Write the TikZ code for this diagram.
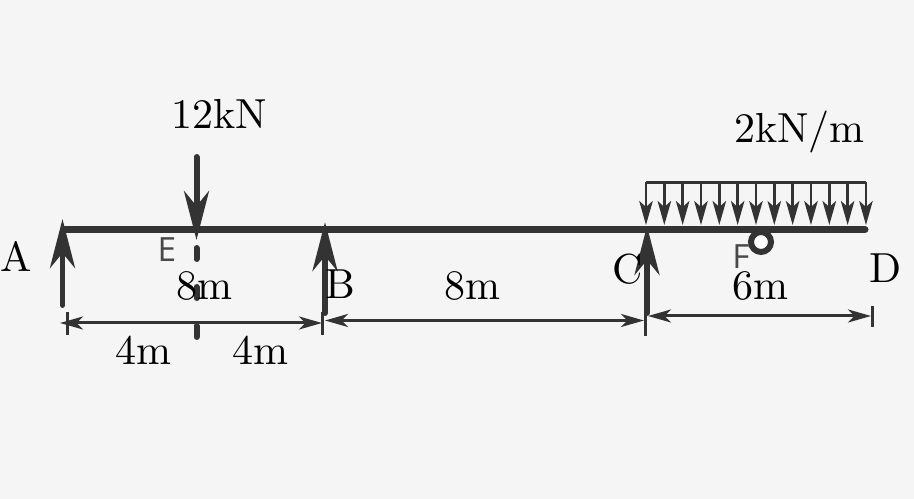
\documentclass[tikz,border=0pt]{standalone}
\usepackage{fontspec}
\newfontfamily\labelfont{Open Sans}
\usetikzlibrary{arrows, arrows.meta}
\usetikzlibrary{calc}
\definecolor{bgcol}{HTML}{F5F5F5}
\definecolor{inkcol}{HTML}{333333}
\definecolor{pointcol}{HTML}{484848}
\tikzset{
  beamline/.style={draw=inkcol, line width=0.14cm, line cap=round},
  bigarrow/.style={draw=inkcol, line width=0.12cm, line cap=round, -{Stealth[length=0.98cm, width=0.5cm, inset=0.3cm]}},
  dimline/.style={draw=inkcol, line width=0.06cm, {Stealth[length=0.46cm, width=0.26cm, inset=0.13cm]}-{Stealth[length=0.46cm, width=0.26cm, inset=0.13cm]}},
  dimtick/.style={draw=inkcol, line width=0.06cm},
  loadline/.style={draw=inkcol, line width=0.05cm, -{Stealth[length=0.48cm, width=0.27cm, inset=0.12cm]}},
  mainlabel/.style={inner sep=0pt, scale=2.39, font=\fontsize{10}{12}\selectfont, text=black},
  pointlabel/.style={inner sep=0pt, font=\labelfont\fontsize{19}{22}\selectfont, text=pointcol}
}
\begin{document}
\begin{tikzpicture}[x=0.02cm, y=-0.02cm]
      \fill[bgcol] (0,0) rectangle (914,499);
      \useasboundingbox (0,0) rectangle (914,499);

      \coordinate (beamA) at (65,229.5);
      \coordinate (beamD) at (865,229.5);
      \draw[beamline] (beamA) -- (beamD);

      % reactions and point load
      \coordinate (footA) at (62.5,305);
      \coordinate (tipA) at (62.5,219);
      \coordinate (footB) at (325,313);
      \coordinate (tipB) at (325,222);
      \coordinate (footC) at (647,313);
      \coordinate (tipC) at (647,226);
      \coordinate (topE) at (196.5,157);
      \coordinate (tipE) at (196.5,240);
      \draw[bigarrow] (footA) -- (tipA);
      \draw[bigarrow] (footB) -- (tipB);
      \draw[bigarrow] (footC) -- (tipC);
      \draw[bigarrow] (topE) -- (tipE);

      \coordinate (cutE) at (196.5,248);
      \coordinate (cutEnd) at (196.5,337);
      \draw[draw=inkcol, line width=0.12cm, line cap=round, dash pattern=on 0.22cm off 0.56cm] (cutE) -- (cutEnd);

      % distributed load
      \coordinate (loadL) at (646,182.5);
      \coordinate (loadR) at (866,182.5);
      \draw[draw=inkcol, line width=0.05cm] (loadL) -- (loadR);
      \foreach \i in {0,...,12} {
        \coordinate (qtop\i) at (646+\i*18.33,182.5);
        \coordinate (qtip\i) at (646+\i*18.33,225);
        \draw[loadline] (qtop\i) -- (qtip\i);
      }

      \node[circle, draw=inkcol, fill=white, line width=0.12cm, inner sep=0pt, minimum size=0.4cm] (hinge) at (761,242) {};

      % dimensions
      \coordinate (tickA1) at (67.5,312);
      \coordinate (tickA2) at (67.5,335);
      \coordinate (tickB1) at (322.5,312);
      \coordinate (tickB2) at (322.5,335);
      \coordinate (tickC1) at (645,310);
      \coordinate (tickC2) at (645,336);
      \coordinate (tickD1) at (872,306);
      \coordinate (tickD2) at (872,327);
      \draw[dimtick] (tickA1) -- (tickA2);
      \draw[dimtick] (tickB1) -- (tickB2);
      \draw[dimtick] (tickC1) -- (tickC2);
      \draw[dimtick] (tickD1) -- (tickD2);

      \coordinate (dimAl) at (60,323);
      \coordinate (dimAr) at (322,323);
      \coordinate (dimBl) at (325,320.5);
      \coordinate (dimBr) at (644,320.5);
      \coordinate (dimCl) at (648,316);
      \coordinate (dimCr) at (871,316);
      \draw[dimline] (dimAl) -- (dimAr);
      \draw[dimline] (dimBl) -- (dimBr);
      \draw[dimline] (dimCl) -- (dimCr);

      % labels
      \node[mainlabel] (force) at (219.5,114) {12kN};
      \node[mainlabel] (udl) at (799.5,132) {2kN/m};
      \node[mainlabel] (A) at (16,256) {A};
      \node[mainlabel] (B) at (340,284) {B};
      \node[mainlabel] (C) at (628,269) {C};
      \node[mainlabel] (D) at (886,268) {D};
      \node[mainlabel] (spanAB) at (204,286) {8m};
      \node[mainlabel] (spanBC) at (472,286) {8m};
      \node[mainlabel] (spanCD) at (760.5,286) {6m};
      \node[mainlabel] (partL) at (143.5,350) {4m};
      \node[mainlabel] (partR) at (260.5,350) {4m};
      \node[pointlabel] (E) at (167,250) {E};
      \node[pointlabel] (F) at (741,257) {F};
    \end{tikzpicture}
\end{document}
